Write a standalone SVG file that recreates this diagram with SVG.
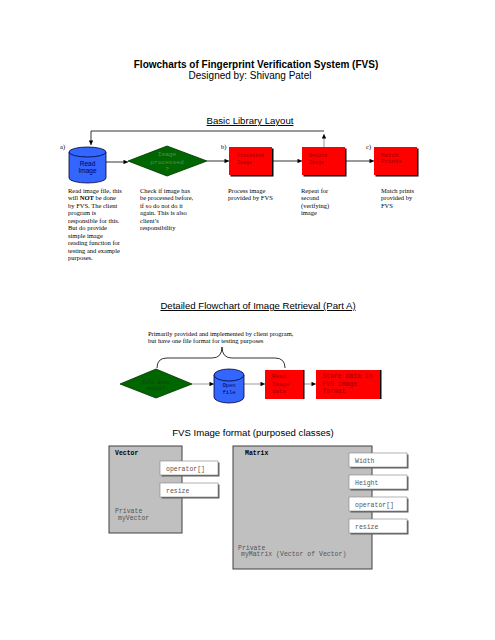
<svg xmlns="http://www.w3.org/2000/svg" width="495" height="640" viewBox="0 0 495 640">
<style>
.h{font-family:"Liberation Sans",Arial,sans-serif;font-size:9.6px;fill:#000}
.cap{font-family:"Liberation Serif","Times New Roman",serif;font-size:6.5px;fill:#000}
.mono{font-family:"Liberation Mono","Courier New",monospace;fill:#555}
.red{fill:#ff0000}
.shadow{fill:#000}
.rtxt{font-family:"Liberation Mono","Courier New",monospace;fill:#990000}
.green{fill:#006600;stroke:#003300;stroke-width:0.8}
.blue{fill:#3366ff;stroke:#000033;stroke-width:0.8}
.gbox{fill:#c0c0c0;stroke:#404040;stroke-width:1}
.wbox{fill:#fff;stroke:#808080;stroke-width:0.6}
.wsh{fill:#606060}
.ln{fill:none;stroke:#000;stroke-width:0.8}
.gln{fill:none;stroke:#999;stroke-width:1}
</style>
<defs>
<marker id="ah" viewBox="0 0 10 10" refX="10" refY="5" markerWidth="5" markerHeight="4.5" markerUnits="userSpaceOnUse" orient="auto"><path d="M0,0 L10,5 L0,10 z" fill="#000"/></marker>
</defs>
<rect width="495" height="640" fill="#fff"/>
<g id="titles">
<text class="h" x="256" y="68" text-anchor="middle" font-weight="bold" style="font-size:10px">Flowcharts of Fingerprint Verification System (FVS)</text>
<text class="h" x="250" y="79" text-anchor="middle" style="font-size:10px">Designed by: Shivang Patel</text>
<text class="h" x="250" y="124" text-anchor="middle" text-decoration="underline">Basic Library Layout</text>
<text class="h" x="258" y="309" text-anchor="middle" text-decoration="underline">Detailed Flowchart of Image Retrieval (Part A)</text>
<text class="h" x="253" y="436" text-anchor="middle">FVS Image format (purposed classes)</text>
</g>
<g id="connectors">
<path class="gln" d="M324,147 V134" marker-end="url(#ah)"/>
<path class="ln" d="M324,131 H91 V145" marker-end="url(#ah)"/>
<path class="ln" d="M106,162 H128" marker-end="url(#ah)"/>
<path class="ln" d="M207,161 H229" marker-end="url(#ah)"/>
<path class="ln" d="M273,161 H302" marker-end="url(#ah)"/>
<path class="ln" d="M346,161 H374" marker-end="url(#ah)"/>
<path class="gln" d="M192,384 H214" marker-end="url(#ah)"/>
<path class="gln" d="M244,384 H265" marker-end="url(#ah)"/>
<path class="gln" d="M304,384 H316" marker-end="url(#ah)"/>
<path class="ln" d="M157,368 Q157,358 167,358 L212,358 Q222,358 222,347 Q222,358 232,358 L275,358 Q285,358 285,368" stroke-width="1"/>
</g>
<g id="labels">
<text class="cap" x="60" y="149">a)</text>
<text class="cap" x="221" y="149">b)</text>
<text class="cap" x="366" y="149">c)</text>
</g>
<g id="read-image">
<path class="blue" d="M69,152 A18.5,5 0 0 1 106,152 V178 A18.5,5 0 0 1 69,178 Z"/>
<path class="blue" d="M69,152 A18.5,5 0 0 0 106,152" fill="none"/>
<text x="87.5" y="165.5" text-anchor="middle" font-family="Liberation Sans,Arial,sans-serif" font-size="6.5" fill="#000066">Read</text>
<text x="87.5" y="172.5" text-anchor="middle" font-family="Liberation Sans,Arial,sans-serif" font-size="6.5" fill="#000066">Image</text>
</g>
<g id="image-processed">
<path class="green" d="M128,161 L167,146 L207,161 L167,176 Z"/>
<text class="mono" x="167" y="156" text-anchor="middle" font-size="6.2" style="fill:#5a8a5a">Image</text>
<text class="mono" x="167" y="163.5" text-anchor="middle" font-size="6.2" style="fill:#5a8a5a">processed</text>
<text class="mono" x="167" y="170.5" text-anchor="middle" font-size="6.2" style="fill:#5a8a5a">?</text>
</g>
<g id="processed-image">
<rect class="shadow" x="230.5" y="148.5" width="43" height="28"/>
<rect class="red" x="229" y="147" width="43" height="28"/>
<text class="rtxt" x="237" y="157" font-size="5">Processed</text>
<text class="rtxt" x="237" y="163.5" font-size="5">Image</text>
</g>
<g id="second-image">
<rect class="shadow" x="303.5" y="148.5" width="43" height="28"/>
<rect class="red" x="302" y="147" width="43" height="28"/>
<text class="rtxt" x="309" y="157" font-size="5">Second</text>
<text class="rtxt" x="309" y="163.5" font-size="5">Image</text>
</g>
<g id="match-prints">
<rect class="shadow" x="375.5" y="148.5" width="43" height="28"/>
<rect class="red" x="374" y="147" width="43" height="28"/>
<text class="rtxt" x="381" y="156.5" font-size="5.8">Match</text>
<text class="rtxt" x="381" y="163" font-size="5.8">Prints</text>
</g>
<g id="captions" class="cap">
<text class="cap" x="68" y="192.5">Read image file, this</text>
<text class="cap" x="68" y="200">will <tspan font-weight="bold">NOT</tspan> be done</text>
<text class="cap" x="68" y="207.5">by FVS. The client</text>
<text class="cap" x="68" y="215">program is</text>
<text class="cap" x="68" y="222.5">responsible for this.</text>
<text class="cap" x="68" y="230">But do provide</text>
<text class="cap" x="68" y="237.5">simple image</text>
<text class="cap" x="68" y="245">reading function for</text>
<text class="cap" x="68" y="252.5">testing and example</text>
<text class="cap" x="68" y="260">purposes.</text>
<text class="cap" x="140" y="192.5">Check if image has</text>
<text class="cap" x="140" y="200">be processed before,</text>
<text class="cap" x="140" y="207.5">if so do not do it</text>
<text class="cap" x="140" y="215">again. This is also</text>
<text class="cap" x="140" y="222.5">client’s</text>
<text class="cap" x="140" y="230">responsibility</text>
<text class="cap" x="228" y="192.5">Process image</text>
<text class="cap" x="228" y="200">provided by FVS</text>
<text class="cap" x="301" y="192.5">Repeat for</text>
<text class="cap" x="301" y="200">second</text>
<text class="cap" x="301" y="207.5">(verifying)</text>
<text class="cap" x="301" y="215">image</text>
<text class="cap" x="381" y="192.5">Match prints</text>
<text class="cap" x="381" y="200">provided by</text>
<text class="cap" x="381" y="207.5">FVS</text>
<text class="cap" x="148" y="335.5">Primarily provided and implemented by client program,</text>
<text class="cap" x="148" y="342.5">but have one file format for testing purposes</text>
</g>
<g id="file-exists">
<path class="green" d="M120,384 L156,369 L192,384 L156,398 Z"/>
<text class="mono" x="156" y="383.5" text-anchor="middle" font-size="5" style="fill:#1a3a1a">File does</text>
<text class="mono" x="156" y="390" text-anchor="middle" font-size="5" style="fill:#1a3a1a">exist?</text>
</g>
<g id="open-file">
<path class="blue" d="M214,375 A15,6 0 0 1 244,375 V397 A15,6 0 0 1 214,397 Z"/>
<path class="blue" d="M214,375 A15,6 0 0 0 244,375" fill="none"/>
<text class="mono" x="229" y="387" text-anchor="middle" font-size="5.5" style="fill:#000066">Open</text>
<text class="mono" x="229" y="393.5" text-anchor="middle" font-size="5.5" style="fill:#000066">file</text>
</g>
<g id="read-image-data">
<rect class="shadow" x="266.5" y="370" width="38" height="29"/>
<rect class="red" x="265" y="370" width="38" height="29"/>
<text class="rtxt" x="272" y="378" font-size="5.8">Read</text>
<text class="rtxt" x="272" y="385.5" font-size="5.8">Image</text>
<text class="rtxt" x="272" y="393" font-size="5.8">data</text>
</g>
<g id="store-data">
<rect class="shadow" x="317.5" y="370" width="64" height="29"/>
<rect class="red" x="316" y="370" width="64" height="29"/>
<text class="rtxt" x="322.5" y="378" font-size="6.4">Store data in</text>
<text class="rtxt" x="322.5" y="385.5" font-size="6.4">FVS image</text>
<text class="rtxt" x="322.5" y="393" font-size="6.4">format</text>
</g>
<g id="vector">
<rect class="gbox" x="109" y="446" width="73" height="87"/>
<text class="mono" x="115" y="455" font-size="6.5" font-weight="bold" style="fill:#000">Vector</text>
<text class="mono" x="115" y="513" font-size="6.5">Private</text>
<text class="mono" x="118" y="520" font-size="6.5">myVector</text>
</g>
<g id="vector-operator">
<rect class="wsh" x="161.5" y="462.5" width="58" height="14"/>
<rect class="wbox" x="160" y="461" width="58" height="14"/>
<text class="mono" x="166" y="470.5" font-size="6.5">operator[]</text>
</g>
<g id="vector-resize">
<rect class="wsh" x="161.5" y="484.5" width="58" height="14"/>
<rect class="wbox" x="160" y="483" width="58" height="14"/>
<text class="mono" x="166" y="492.5" font-size="6.5">resize</text>
</g>
<g id="matrix">
<rect class="gbox" x="233" y="446" width="139" height="123"/>
<text class="mono" x="245" y="455" font-size="6.5" font-weight="bold" style="fill:#000">Matrix</text>
<text class="mono" x="238" y="549.5" font-size="6.5">Private</text>
<text class="mono" x="241" y="556" font-size="6.5">myMatrix (Vector of Vector)</text>
</g>
<g id="matrix-width">
<rect class="wsh" x="350.5" y="454.5" width="58" height="14"/>
<rect class="wbox" x="349" y="453" width="58" height="14"/>
<text class="mono" x="355" y="462.5" font-size="6.5">Width</text>
</g>
<g id="matrix-height">
<rect class="wsh" x="350.5" y="476.5" width="58" height="14"/>
<rect class="wbox" x="349" y="475" width="58" height="14"/>
<text class="mono" x="355" y="484.5" font-size="6.5">Height</text>
</g>
<g id="matrix-operator">
<rect class="wsh" x="350.5" y="498.5" width="58" height="14"/>
<rect class="wbox" x="349" y="497" width="58" height="14"/>
<text class="mono" x="355" y="506.5" font-size="6.5">operator[]</text>
</g>
<g id="matrix-resize">
<rect class="wsh" x="350.5" y="520.5" width="58" height="14"/>
<rect class="wbox" x="349" y="519" width="58" height="14"/>
<text class="mono" x="355" y="528.5" font-size="6.5">resize</text>
</g>
</svg>
